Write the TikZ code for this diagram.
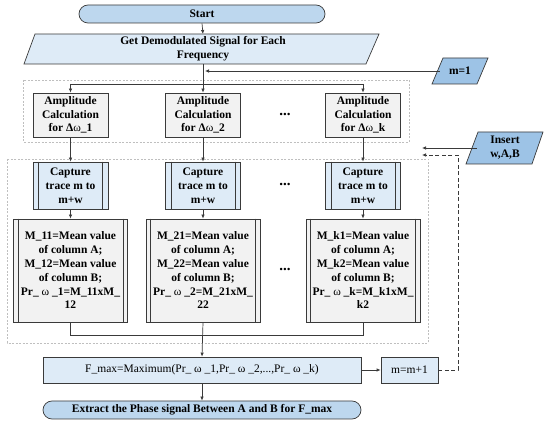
\documentclass[tikz,border=0pt]{standalone}
\usepackage{fontspec}
\setmainfont{Liberation Serif}
\usetikzlibrary{arrows.meta,calc}
\definecolor{lblue}{HTML}{DEEBF7}
\definecolor{mblue}{HTML}{BDD7EE}
\definecolor{dblue}{HTML}{9DC3E6}
\definecolor{lgray}{HTML}{F2F2F2}
\definecolor{edge}{HTML}{3A3A3A}
\definecolor{dashgray}{HTML}{BFBFBF}
\newcommand{\dw}{\textbf{Δ}{\mdseries ω}}
\newcommand{\om}{{\mdseries ω}}
\tikzset{
  every node/.style={font=\fontsize{11.5}{13.8}\selectfont\bfseries, inner sep=0pt, align=center},
  arr/.style={draw=edge, line width=0.7pt, -{Latex[length=4pt,width=3.5pt]}},
  ln/.style={draw=edge, line width=0.7pt},
  term/.style={draw=edge, line width=0.7pt, fill=mblue, rounded corners=9pt},
  ampbox/.style={draw=edge, line width=0.7pt, fill=lgray, minimum width=75pt, minimum height=44pt},
  capbox/.style={draw=edge, line width=0.7pt, fill=lblue, minimum width=75pt, minimum height=47pt},
  mbox/.style={draw=edge, line width=0.7pt, fill=lgray, minimum width=114pt, minimum height=103pt},
  procbox/.style={draw=edge, line width=0.7pt, fill=lblue},
  group/.style={draw=dashgray, line width=0.6pt, dash pattern=on 2pt off 1.5pt},
  para/.style={draw=edge, line width=0.7pt},
  dots/.style={font=\fontsize{15}{15}\selectfont\bfseries}
}
\begin{document}
\begin{tikzpicture}[x=1pt,y=-1pt]
\useasboundingbox (0,0) rectangle (550,425);
% dashed groups
\draw[group] (23,80) rectangle (409,142);
\draw[group] (7,159) rectangle (428,343);
% Start
\node[term, minimum width=246pt, minimum height=18pt] (start) at (202,14) {Start};
% Get demodulated parallelogram
\draw[para, fill=lblue] (35,34) -- (379,34) -- (366,64) -- (24,64) -- cycle;
\node[minimum width=330pt, minimum height=30pt] (get) at (203,49) {Get Demodulated Signal for Each\\Frequency};
% m=1
\draw[para, fill=dblue] (443,58) -- (488,58) -- (477,84) -- (432,84) -- cycle;
\node[minimum width=40pt, minimum height=26pt] (m1) at (460,71) {m=1};
% Insert
\draw[para, fill=dblue] (478,132) -- (543,132) -- (532,164) -- (466,164) -- cycle;
\node[minimum width=56pt, minimum height=32pt] (ins) at (505,148) {Insert\\w,A,B};
% Amplitude boxes
\node[ampbox] (a1) at (70.5,115) {Amplitude\\Calculation\\for \dw\_1};
\node[ampbox] (a2) at (203,115) {Amplitude\\Calculation\\for \dw\_2};
\node[ampbox] (a3) at (363,115) {Amplitude\\Calculation\\for \dw\_k};
% Capture boxes
\foreach \n/\x in {c1/70.5,c2/203,c3/363}{
  \node[capbox] (\n) at (\x,185.5) {Capture\\trace m to\\m+w};
  \draw[ln] ($(\n.north west)+(6,0)$) -- ($(\n.south west)+(6,0)$);
  \draw[ln] ($(\n.north east)+(-6,0)$) -- ($(\n.south east)+(-6,0)$);
}
% M boxes
\node[mbox] (b1) at (70.5,270.5) {M\_11=Mean value\\of column A;\\M\_12=Mean value\\of column B;\\Pr\_ \om\ \_1=M\_11xM\_\\12};
\node[mbox] (b2) at (203,270.5) {M\_21=Mean value\\of column A;\\M\_22=Mean value\\of column B;\\Pr\_ \om\ \_2=M\_21xM\_\\22};
\node[mbox] (b3) at (363,270.5) {M\_k1=Mean value\\of column A;\\M\_k2=Mean value\\of column B;\\Pr\_ \om\ \_k=M\_k1xM\_\\k2};
\foreach \n in {b1,b2,b3}{
  \draw[ln] ($(\n.north west)+(5,0)$) -- ($(\n.south west)+(5,0)$);
  \draw[ln] ($(\n.north east)+(-5,0)$) -- ($(\n.south east)+(-5,0)$);
}
% dots
\node[dots] (d1) at (285,114) {...};
\node[dots] (d2) at (285,184) {...};
\node[dots] (d3) at (285,269) {...};
% F_max, m=m+1, Extract
\node[procbox, minimum width=318pt, minimum height=26pt, font=\fontsize{11.5}{13}\selectfont] (fmax) at (202,370) {F\_max=Maximum(Pr\_ ω \_1,Pr\_ ω \_2,...,Pr\_ ω \_k)};
\node[procbox, minimum width=57pt, minimum height=26pt, font=\fontsize{11.5}{13}\selectfont] (mm) at (409.5,370) {m=m+1};
\node[term, minimum width=318pt, minimum height=18pt] (ext) at (202,410) {Extract the Phase signal Between A and B for F\_max};
% coordinates
\coordinate (j1) at (203,71);
\coordinate (j2) at (203,84);
\coordinate (j3) at (203,335);
\coordinate (t1) at (422,148);
\coordinate (t2) at (422,155);
\coordinate (fb) at (458,155);
% connectors
\draw[arr] (start.south) -- (get.south |- 0,34);
\draw[arr] (203,64) -- (a2.north);
\draw[arr] (m1.west) -- ($(j1)+(2,0)$);
\draw[ln] (a1.north |- j2) -- (a3.north |- j2);
\draw[arr] (a1.north |- j2) -- (a1.north);
\draw[arr] (a3.north |- j2) -- (a3.north);
\foreach \i in {1,2,3}{
  \draw[arr] (a\i.south) -- (c\i.north);
  \draw[arr] (c\i.south) -- (b\i.north);
}
\draw[ln] (b1.south) -- (b1.south |- j3) -- (b3.south |- j3) -- (b3.south);
\draw[arr] (b2.south) -- (fmax.north);
\draw[arr] (fmax.east) -- (mm.west);
\draw[arr] (fmax.south) -- (ext.north);
\draw[arr] (ins.west) -- (t1);
\draw[arr, dashed, dash pattern=on 4pt off 2.5pt] (mm.east) -| (fb) -- (t2);
\end{tikzpicture}
\end{document}
